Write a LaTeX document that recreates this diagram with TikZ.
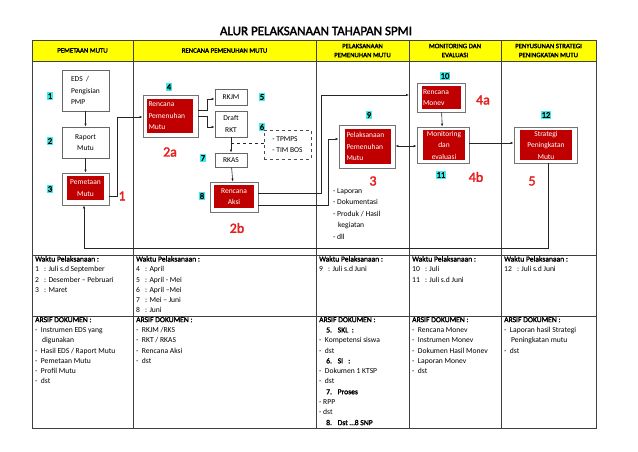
\documentclass[tikz,border=0pt]{standalone}
\usepackage{fontspec}
\setmainfont{Carlito}[AutoFakeBold=2.2]
\usetikzlibrary{arrows.meta}
\definecolor{hdr}{RGB}{255,255,0}
\definecolor{rd}{RGB}{192,0,0}
\definecolor{cy}{RGB}{60,235,235}
\definecolor{nr}{RGB}{230,30,30}
\begin{document}
\begin{tikzpicture}[x=1pt,y=-1pt,
  every node/.style={inner sep=0pt},
  grid/.style={draw=black!75,line width=0.7pt},
  wbox/.style={draw=black!60,line width=0.8pt,fill=white,align=center,font=\fontsize{7.5}{11.5}\selectfont},
  outer/.style={draw=black!55,line width=0.8pt,fill=white},
  inner/.style={fill=rd,text=white,align=left,font=\fontsize{7.5}{11.5}\selectfont},
  num/.style={fill=cy,font=\bfseries\fontsize{8.5}{9}\selectfont,inner sep=1pt},
  rnum/.style={text=nr,font=\bfseries\fontsize{14}{15}\selectfont},
  hd/.style={font=\bfseries\fontsize{6.8}{9}\selectfont,align=center},
  txt/.style={anchor=north west,align=left,font=\fontsize{7.6}{10.3}\selectfont},
  conn/.style={draw=black!85,line width=0.6pt,-{Latex[length=3pt,width=2.5pt]}},
  ln/.style={draw=black!85,line width=0.6pt}]
\useasboundingbox (0,0) rectangle (638,451);
\fill[white] (0,0) rectangle (638,451);
\node[font=\bfseries\fontsize{13}{14}\selectfont] (title) at (316,31) {ALUR PELAKSANAAN TAHAPAN SPMI};
% header
\fill[hdr] (32,40) rectangle (596,61);
\draw[grid] (32,40) rectangle (596,428);
\foreach \y in {61,255,316} \draw[grid] (32,\y) -- (596,\y);
\foreach \x in {133,316,409,501} \draw[grid] (\x,40) -- (\x,428);
\node[hd] (h1) at (82.5,50.5) {PEMETAAN MUTU};
\node[hd] (h2) at (224.5,50.5) {RENCANA PEMENUHAN MUTU};
\node[hd] (h3) at (362.5,50.5) {PELAKSANAAN\\PEMENUHAN MUTU};
\node[hd] (h4) at (455,50.5) {MONITORING DAN\\EVALUASI};
\node[hd] (h5) at (548.5,50.5) {PENYUSUNAN STRATEGI\\PENINGKATAN MUTU};
% column 1
\node[wbox,minimum width=47pt,minimum height=41pt,align=left] (eds) at (85.5,90.5) {EDS \ /\\Pengisian\\PMP};
\node[wbox,minimum width=47pt,minimum height=31pt] (rap) at (85.5,142.5) {Raport\\Mutu};
\node[outer,minimum width=47pt,minimum height=32pt] (pem) at (85.5,189) {};
\node[inner,align=center,minimum width=37pt,minimum height=24pt] (pemi) at (85.5,188) {Pemetaan\\Mutu};
\node[num] (n1) at (50,96) {1};
\node[num] (n2) at (50,141) {2};
\node[num] (n3) at (50,189) {3};
\node[rnum] (r1) at (122,196) {1};
% column 2
\node[outer,minimum width=55pt,minimum height=42pt] (ren) at (170.5,116) {};
\node[inner,minimum width=46pt,minimum height=34pt,text width=43pt] (reni) at (170,116) {Rencana\\Pemenuhan\\Mutu};
\node[num] (n4) at (169,87) {4};
\node[rnum] (r2a) at (170,152) {2a};
\node[wbox,minimum width=32pt,minimum height=16pt] (rkjm) at (231,97) {RKJM};
\node[wbox,minimum width=32pt,minimum height=26pt] (rkt) at (231,124) {Draft\\RKT};
\node[num] (n5) at (262,97) {5};
\node[num] (n6) at (262,127) {6};
\node[draw=black!70,dashed,line width=0.6pt,minimum width=47pt,minimum height=29pt,align=left,font=\fontsize{7.5}{11}\selectfont] (tp) at (287.5,144.5) {- TPMPS\\- TIM BOS};
\node[wbox,minimum width=32pt,minimum height=14pt] (rkas) at (231,160) {RKAS};
\node[num] (n7) at (203,158) {7};
\node[outer,minimum width=48pt,minimum height=30pt] (aksi) at (234,197) {};
\node[inner,align=center,minimum width=40pt,minimum height=23pt] (aksii) at (234,196.5) {Rencana\\Aksi};
\node[num] (n8) at (202,196) {8};
\node[rnum] (r2b) at (237,228) {2b};
% column 3
\node[outer,minimum width=56pt,minimum height=43pt] (pel) at (367,146.5) {};
\node[inner,minimum width=46pt,minimum height=35pt,text width=43pt] (peli) at (368,146.5) {Pelaksanaan\\Pemenuhan\\Mutu};
\node[num] (n9) at (369,115) {9};
\node[rnum] (r3) at (373,181) {3};
\node[txt,font=\fontsize{7.6}{11.5}\selectfont] (lap) at (333,188) {- Laporan\\- Dokumentasi\\- Produk / Hasil\\\hspace*{5pt}kegiatan\\- dll};
% column 4
\node[outer,minimum width=48pt,minimum height=29pt] (mon) at (441,97.5) {};
\node[inner,minimum width=39pt,minimum height=23pt,text width=37pt] (moni) at (441.5,97.5) {Rencana\\Monev};
\node[num] (n10) at (445,76) {10};
\node[rnum] (r4a) at (483,100) {4a};
\node[outer,minimum width=52pt,minimum height=36pt] (ev) at (443,145) {};
\node[inner,align=center,minimum width=42pt,minimum height=30pt] (evi) at (444,145) {Monitoring\\dan\\evaluasi};
\node[num] (n11) at (441,175) {11};
\node[rnum] (r4b) at (476,177) {4b};
% column 5
\node[outer,minimum width=63pt,minimum height=36pt] (str) at (545.5,145) {};
\node[inner,align=center,minimum width=52pt,minimum height=30pt] (stri) at (546,145) {Strategi\\Peningkatan\\Mutu};
\node[num] (n12) at (546,115) {12};
\node[rnum] (r5) at (532,181) {5};
% connectors
\draw[conn] (eds) -- (rap);
\draw[conn] (rap) -- (pem);
\draw[conn] (pem.east |- 0,196) -- (117,196) -- (117,117) -- (ren.west |- 0,117);
\draw[conn] (ren.east |- 0,110) -- (207,110) -- (207,99) -- (rkjm.west |- 0,99);
\draw[conn] (ren.east |- 0,116) -- (207,116) -- (207,127) -- (rkt.west |- 0,127);
\draw[conn] (rkt) -- (rkas);
\draw[ln,dashed] (231,143) -- (tp.west |- 0,143);
\draw[conn] (rkas) -- (aksi);
\coordinate (mtop) at (409,95);
\draw[conn] (aksi.east |- 0,193) -- (321,193) -- (321,95) -- (mtop);
\draw[conn] (aksi.east |- 0,205) -- (328,205) -- (328,139) -- (pel.west |- 0,139);
\draw[conn] (mon) -- (ev);
\draw[draw=black!85,line width=0.6pt,{Latex[length=3pt,width=2.5pt]}-{Latex[length=3pt,width=2.5pt]}] (pel.east |- 0,146) -- (ev.west |- 0,146);
\draw[conn] (ev.east |- 0,143) -- (str.west |- 0,143);
\draw[conn] (548,163) -- (548,248) -- (84,248) -- (pem.south -| 84,0);
% lower table
\node[txt] (w1) at (35,256) {\textbf{Waktu Pelaksanaan :}\\1 \ \ : Juli s.d September\\2 \ \ : Desember -- Pebruari\\3 \ \ : Maret};
\node[txt] (w2) at (136,256) {\textbf{Waktu Pelaksanaan :}\\4 \ \ : April\\5 \ \ : April - Mei\\6 \ \ : April --Mei\\7 \ \ : Mei -- Juni\\8 \ \ : Juni};
\node[txt] (w3) at (319,256) {\textbf{Waktu Pelaksanaan :}\\9 \ \ : Juli s.d Juni};
\node[txt] (w4) at (412,256) {\textbf{Waktu Pelaksanaan :}\\10 \ \ : Juli\\11 \ \ : Juli s.d Juni};
\node[txt] (w5) at (504,256) {\textbf{Waktu Pelaksanaan :}\\12 \ \ : Juli s.d Juni};
\node[txt] (a1) at (35,317) {\textbf{ARSIF DOKUMEN :}\\- \ Instrumen EDS yang\\\hspace*{7pt}digunakan\\- \ Hasil EDS / Raport Mutu\\- \ Pemetaan Mutu\\- \ Profil Mutu\\- \ dst};
\node[txt] (a2) at (136,317) {\textbf{ARSIF DOKUMEN :}\\- \ RKJM /RKS\\- \ RKT / RKAS\\- \ Rencana Aksi\\- \ dst};
\node[txt] (a3) at (319,317) {\textbf{ARSIF DOKUMEN :}\\\hspace*{7pt}\textbf{5. \ \ SKL \ :}\\- \ Kompetensi siswa\\- \ dst\\\hspace*{7pt}\textbf{6. \ \ SI \ \ :}\\- \ Dokumen 1 KTSP\\- \ dst\\\hspace*{7pt}\textbf{7. \ \ Proses}\\- RPP\\- dst\\\hspace*{7pt}\textbf{8. \ \ Dst \dots8 SNP}};
\node[txt] (a4) at (412,317) {\textbf{ARSIF DOKUMEN :}\\- \ Rencana Monev\\- \ Instrumen Monev\\- \ Dokumen Hasil Monev\\- \ Laporan Monev\\- \ dst};
\node[txt] (a5) at (504,317) {\textbf{ARSIF DOKUMEN :}\\- \ Laporan hasil Strategi\\\hspace*{7pt}Peningkatan mutu\\- \ dst};
\end{tikzpicture}
\end{document}
